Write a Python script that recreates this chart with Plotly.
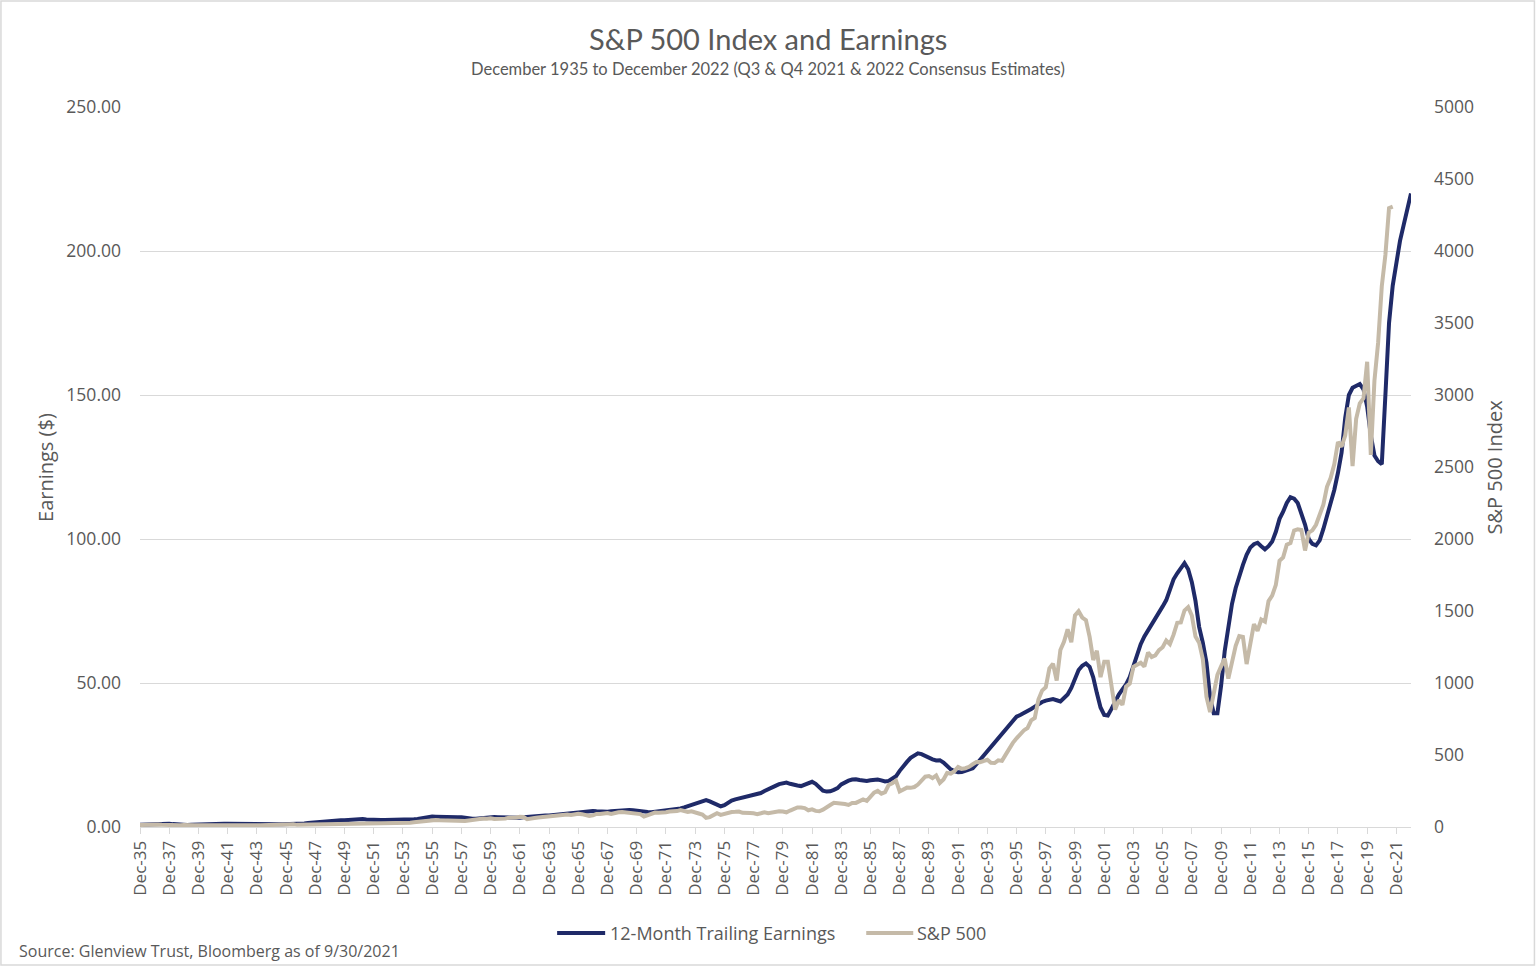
import plotly.graph_objects as go

# ---------------- DATA ----------------
# Quarter-end categories: Dec-1935 ... Dec-2022
START_YEAR = 1935
END_YEAR = 2022
QUARTER_MONTHS = [("03", "31"), ("06", "30"), ("09", "30"), ("12", "31")]

# 12-month trailing earnings ($), Dec-35 then Mar/Jun/Sep/Dec each year to Dec-22
EARNINGS = [
    0.76,                       # 1935 Dec
    0.83, 0.90, 0.96, 1.02,     # 1936
    1.08, 1.13, 1.15, 1.13,     # 1937
    1.00, 0.85, 0.72, 0.64,     # 1938
    0.68, 0.74, 0.82, 0.90,     # 1939
    0.96, 1.00, 1.03, 1.05,     # 1940
    1.08, 1.11, 1.14, 1.16,     # 1941
    1.12, 1.08, 1.05, 1.03,     # 1942
    1.00, 0.97, 0.95, 0.94,     # 1943
    0.93, 0.93, 0.93, 0.93,     # 1944
    0.93, 0.94, 0.95, 0.96,     # 1945
    0.93, 0.92, 0.98, 1.06,     # 1946
    1.20, 1.35, 1.48, 1.61,     # 1947
    1.80, 1.98, 2.15, 2.29,     # 1948
    2.35, 2.35, 2.33, 2.32,     # 1949
    2.40, 2.55, 2.70, 2.84,     # 1950
    2.75, 2.62, 2.50, 2.44,     # 1951
    2.42, 2.40, 2.40, 2.40,     # 1952
    2.45, 2.50, 2.53, 2.51,     # 1953
    2.55, 2.62, 2.70, 2.77,     # 1954
    3.00, 3.25, 3.45, 3.62,     # 1955
    3.58, 3.50, 3.42, 3.41,     # 1956
    3.45, 3.45, 3.42, 3.37,     # 1957
    3.15, 2.95, 2.85, 2.89,     # 1958
    3.05, 3.25, 3.35, 3.39,     # 1959
    3.45, 3.40, 3.33, 3.27,     # 1960
    3.12, 3.08, 3.10, 3.19,     # 1961
    3.35, 3.50, 3.60, 3.67,     # 1962
    3.75, 3.85, 3.95, 4.02,     # 1963
    4.15, 4.30, 4.45, 4.55,     # 1964
    4.70, 4.85, 5.02, 5.19,     # 1965
    5.35, 5.48, 5.55, 5.55,     # 1966
    5.45, 5.35, 5.30, 5.33,     # 1967
    5.45, 5.58, 5.70, 5.76,     # 1968
    5.85, 5.90, 5.85, 5.78,     # 1969
    5.60, 5.40, 5.25, 5.13,     # 1970
    5.25, 5.40, 5.55, 5.70,     # 1971
    5.85, 6.00, 6.20, 6.42,     # 1972
    6.80, 7.25, 7.70, 8.16,     # 1973
    8.60, 9.05, 9.35, 8.89,     # 1974
    8.30, 7.70, 7.15, 7.60,     # 1975
    8.50, 9.20, 9.60, 9.90,     # 1976
    10.15, 10.45, 10.70, 10.90, # 1977
    11.20, 11.80, 12.50, 13.00, # 1978
    13.60, 14.30, 14.90, 15.30, # 1979
    15.40, 15.00, 14.60, 14.40, # 1980
    14.20, 14.80, 15.30, 15.70, # 1981
    15.00, 13.80, 12.60, 12.30, # 1982
    12.40, 12.90, 13.50, 14.80, # 1983
    15.60, 16.10, 16.50, 16.60, # 1984
    16.30, 16.00, 16.00, 16.20, # 1985
    16.40, 16.50, 16.20, 15.80, # 1986
    16.00, 16.80, 17.60, 19.50, # 1987
    21.20, 22.60, 24.00, 24.90, # 1988
    25.60, 25.30, 24.60, 24.20, # 1989
    23.50, 23.10, 23.20, 22.40, # 1990
    21.20, 20.00, 19.40, 19.00, # 1991
    19.10, 19.50, 19.80, 20.40, # 1992
    21.80, 23.30, 25.00, 26.50, # 1993
    28.00, 29.50, 31.00, 32.60, # 1994
    34.30, 35.80, 37.20, 38.30, # 1995
    38.90, 39.50, 40.20, 41.00, # 1996
    41.80, 42.70, 43.40, 43.90, # 1997
    44.10, 44.40, 44.00, 43.60, # 1998
    44.80, 46.00, 48.30, 51.50, # 1999
    54.50, 56.00, 56.80, 55.60, # 2000
    52.00, 46.50, 41.50, 38.90, # 2001
    38.70, 41.00, 43.80, 46.00, # 2002
    47.80, 49.50, 52.00, 55.70, # 2003
    60.00, 63.50, 66.20, 68.20, # 2004
    70.20, 72.20, 74.30, 76.60, # 2005
    78.80, 82.50, 86.00, 88.10, # 2006
    89.80, 91.60, 89.50, 85.00, # 2007
    78.50, 69.50, 64.00, 57.00, # 2008
    45.00, 39.50, 39.50, 49.00, # 2009
    61.00, 70.00, 77.50, 83.00, # 2010
    87.50, 91.00, 94.50, 97.00, # 2011
    98.20, 98.70, 97.50, 96.40, # 2012
    97.50, 99.10, 102.50, 107.00,  # 2013
    109.50, 112.50, 114.50, 114.00,  # 2014
    112.50, 109.00, 105.00, 100.00,  # 2015
    98.30, 97.80, 99.50, 103.50,   # 2016
    108.00, 112.50, 117.00, 123.00,  # 2017
    130.00, 142.00, 150.00, 152.50,  # 2018
    153.00, 153.80, 152.00, 146.00,  # 2019
    136.00, 129.00, 127.00, 126.00,  # 2020
    150.00, 175.00, 188.00, 196.00,  # 2021
    203.50, 209.00, 214.50, 220.00,  # 2022
]

# S&P 500 index level, quarter end, Dec-35 to Sep-21
SP500 = [
    13.43,                          # 1935 Dec
    15.03, 14.88, 16.20, 17.18,     # 1936
    18.09, 15.18, 13.76, 10.55,     # 1937
    8.50, 11.56, 12.09, 13.21,      # 1938
    10.89, 11.37, 12.93, 12.49,     # 1939
    12.13, 9.69, 10.73, 10.58,      # 1940
    9.95, 9.61, 10.24, 8.69,        # 1941
    8.34, 8.33, 8.88, 9.77,         # 1942
    11.58, 12.24, 11.90, 11.67,     # 1943
    12.08, 13.22, 12.94, 13.28,     # 1944
    13.89, 14.92, 15.78, 17.36,     # 1945
    17.53, 18.44, 14.82, 15.30,     # 1946
    15.17, 15.12, 15.10, 15.30,     # 1947
    15.08, 16.74, 15.49, 15.20,     # 1948
    15.06, 14.16, 15.58, 16.76,     # 1949
    17.29, 17.69, 19.45, 20.41,     # 1950
    21.48, 20.96, 23.26, 23.77,     # 1951
    24.37, 24.96, 24.54, 26.57,     # 1952
    25.29, 24.14, 23.35, 24.81,     # 1953
    26.94, 29.21, 32.31, 35.98,     # 1954
    36.58, 41.03, 43.67, 45.48,     # 1955
    48.48, 46.97, 45.35, 46.67,     # 1956
    44.11, 47.37, 42.42, 39.99,     # 1957
    42.10, 45.24, 50.06, 55.21,     # 1958
    55.44, 58.47, 56.88, 59.89,     # 1959
    55.34, 56.92, 53.52, 58.11,     # 1960
    65.06, 64.64, 66.73, 71.55,     # 1961
    69.55, 54.75, 56.27, 63.10,     # 1962
    66.57, 69.37, 71.70, 75.02,     # 1963
    78.98, 81.69, 84.18, 84.75,     # 1964
    86.16, 84.12, 89.96, 92.43,     # 1965
    89.23, 84.74, 76.56, 80.33,     # 1966
    90.20, 90.64, 96.71, 96.47,     # 1967
    90.20, 99.58, 102.67, 103.86,   # 1968
    101.51, 97.71, 93.12, 92.06,    # 1969
    89.63, 72.72, 84.30, 92.15,     # 1970
    100.31, 99.70, 98.34, 102.09,   # 1971
    107.20, 107.14, 110.55, 118.05, # 1972
    111.52, 104.26, 108.43, 97.55,  # 1973
    93.98, 86.00, 63.54, 68.56,     # 1974
    83.36, 95.19, 83.87, 90.19,     # 1975
    102.77, 104.28, 105.24, 107.46, # 1976
    98.42, 100.48, 96.53, 95.10,    # 1977
    89.21, 95.53, 102.54, 96.11,    # 1978
    101.59, 102.91, 109.32, 107.94, # 1979
    102.09, 114.24, 125.46, 135.76, # 1980
    136.00, 131.21, 116.18, 122.55, # 1981
    111.96, 109.61, 120.42, 140.64, # 1982
    152.96, 168.11, 166.07, 164.93, # 1983
    159.18, 153.18, 166.10, 167.24, # 1984
    180.66, 191.85, 182.08, 211.28, # 1985
    238.90, 250.84, 231.32, 242.17, # 1986
    291.70, 304.00, 321.83, 247.08, # 1987
    258.89, 273.50, 271.91, 277.72, # 1988
    294.87, 317.98, 349.15, 353.40, # 1989
    339.94, 358.02, 306.05, 330.22, # 1990
    375.22, 371.16, 387.86, 417.09, # 1991
    403.69, 408.14, 417.80, 435.71, # 1992
    451.67, 450.53, 458.93, 466.45, # 1993
    445.77, 444.27, 462.69, 459.27, # 1994
    500.71, 544.75, 584.41, 615.93, # 1995
    645.50, 670.63, 687.31, 740.74, # 1996
    757.12, 885.14, 947.28, 970.43, # 1997
    1101.75, 1133.84, 1017.01, 1229.23,  # 1998
    1286.37, 1372.71, 1282.71, 1469.25,  # 1999
    1498.58, 1454.60, 1436.51, 1320.28,  # 2000
    1160.33, 1224.42, 1040.94, 1148.08,  # 2001
    1147.39, 989.82, 815.28, 879.82,     # 2002
    848.18, 974.50, 995.97, 1111.92,     # 2003
    1126.21, 1140.84, 1114.58, 1211.92,  # 2004
    1180.59, 1191.33, 1228.81, 1248.29,  # 2005
    1294.83, 1270.20, 1335.85, 1418.30,  # 2006
    1420.86, 1503.35, 1526.75, 1468.36,  # 2007
    1322.70, 1280.00, 1166.36, 903.25,   # 2008
    797.87, 919.32, 1057.08, 1115.10,    # 2009
    1169.43, 1030.71, 1141.20, 1257.64,  # 2010
    1325.83, 1320.64, 1131.42, 1257.60,  # 2011
    1408.47, 1362.16, 1440.67, 1426.19,  # 2012
    1569.19, 1606.28, 1681.55, 1848.36,  # 2013
    1872.34, 1960.23, 1972.29, 2058.90,  # 2014
    2067.89, 2063.11, 1920.03, 2043.94,  # 2015
    2059.74, 2098.86, 2168.27, 2238.83,  # 2016
    2362.72, 2423.41, 2519.36, 2673.61,  # 2017
    2640.87, 2718.37, 2913.98, 2506.85,  # 2018
    2834.40, 2941.76, 2976.74, 3230.78,  # 2019
    2584.59, 3100.29, 3363.00, 3756.07,  # 2020
    3972.89, 4297.50, 4307.54,           # 2021 (to Sep)
]

TITLE = "S&P 500 Index and Earnings"
SUBTITLE = "December 1935 to December 2022 (Q3 & Q4 2021 & 2022 Consensus Estimates)"
SOURCE = "Source: Glenview Trust, Bloomberg as of 9/30/2021"
NAME_EARN = "12-Month Trailing Earnings"
NAME_SPX = "S&P 500"
Y_LEFT_TITLE = "Earnings ($)"
Y_RIGHT_TITLE = "S&P 500 Index"

# quarter-end dates (category axis)
DATES = [f"{START_YEAR}-12-31"] + [
    f"{y}-{m}-{d}" for y in range(START_YEAR + 1, END_YEAR + 1) for (m, d) in QUARTER_MONTHS
]

# ---------------- STYLE ----------------
NAVY = "#1F2A68"
TAN = "#C5BAA8"
TEXT = "#595959"
GRID = "#D9D9D9"
FONT = "Open Sans, Segoe UI, Arial, sans-serif"
TFONT = "Lato, Calibri, sans-serif"

W, H = 1536, 967
L, R, T, B = 140, 1410.6, 107, 827  # plot area in pixels
PW, PH = R - L, B - T


def px(x):
    return (x - L) / PW


def py(y):
    return (B - y) / PH


fig = go.Figure()
fig.add_trace(go.Scatter(
    x=DATES[:len(EARNINGS)], y=EARNINGS, name=NAME_EARN, mode="lines",
    line=dict(color=NAVY, width=4), yaxis="y", showlegend=False,
))
fig.add_trace(go.Scatter(
    x=DATES[:len(SP500)], y=SP500, name=NAME_SPX, mode="lines",
    line=dict(color=TAN, width=4), yaxis="y2", showlegend=False,
))

# legend drawn as line samples + text (positions in pixels)
LEGEND_Y = 933
legend_items = [
    (NAME_EARN, NAVY, 557, 605, 608),
    (NAME_SPX, TAN, 866, 913, 915),
]
shapes = [
    dict(type="rect", xref="paper", yref="paper",
         x0=px(1), x1=px(W - 2), y0=py(H - 2), y1=py(1),
         line=dict(color=GRID, width=1.5), fillcolor="rgba(0,0,0,0)", layer="below"),
]
annotations = [
    dict(text=TITLE, x=px(768), y=py(39), xref="paper", yref="paper",
         showarrow=False, xanchor="center", yanchor="middle",
         font=dict(size=29, color=TEXT, family=TFONT)),
    dict(text=SUBTITLE, x=px(768), y=py(69), xref="paper", yref="paper",
         showarrow=False, xanchor="center", yanchor="middle",
         font=dict(size=16.5, color=TEXT, family=TFONT)),
    dict(text=Y_LEFT_TITLE, x=px(45), y=py(467), xref="paper", yref="paper",
         showarrow=False, xanchor="center", yanchor="middle", textangle=-90,
         font=dict(size=20, color=TEXT, family=FONT)),
    dict(text=Y_RIGHT_TITLE, x=px(1494), y=py(467), xref="paper", yref="paper",
         showarrow=False, xanchor="center", yanchor="middle", textangle=-90,
         font=dict(size=20, color=TEXT, family=FONT)),
    dict(text=SOURCE, x=px(17), y=py(951), xref="paper", yref="paper",
         showarrow=False, xanchor="left", yanchor="middle",
         font=dict(size=16, color=TEXT, family=FONT)),
]
for name, color, x0, x1, xt in legend_items:
    shapes.append(dict(type="line", xref="paper", yref="paper",
                       x0=px(x0), x1=px(x1), y0=py(LEGEND_Y), y1=py(LEGEND_Y),
                       line=dict(color=color, width=4)))
    annotations.append(dict(text=name, x=px(xt), y=py(LEGEND_Y), xref="paper", yref="paper",
                            showarrow=False, xanchor="left", yanchor="middle",
                            font=dict(size=18, color=TEXT, family=FONT)))

fig.update_layout(
    width=W, height=H,
    margin=dict(l=L, r=W - R, t=T, b=H - B, pad=0),
    paper_bgcolor="white", plot_bgcolor="white",
    font=dict(family=FONT, color=TEXT, size=17),
    showlegend=False,
    xaxis=dict(
        type="date", range=[DATES[0], DATES[-1]],
        tick0=DATES[0], dtick="M24", tickformat="%b-%y", tickangle=-90,
        ticks="outside", ticklen=6, tickcolor=GRID, tickwidth=1,
        showgrid=False, showline=True, linecolor=GRID, linewidth=1,
        tickfont=dict(size=17, color=TEXT, family=FONT), zeroline=False,
    ),
    yaxis=dict(
        range=[0, 250], dtick=50, tickformat=".2f", showgrid=True,
        gridcolor=GRID, gridwidth=1, zeroline=False, showline=False,
        tickfont=dict(size=17.5, color=TEXT, family=FONT), ticks="", ticklabelstandoff=18,
    ),
    yaxis2=dict(
        range=[0, 5000], dtick=500, overlaying="y", side="right", showgrid=False,
        zeroline=False, showline=False, tickformat="d",
        tickfont=dict(size=17.5, color=TEXT, family=FONT), ticks="", ticklabelstandoff=22,
    ),
    annotations=annotations,
    shapes=shapes,
)

fig.write_html("out.html")
